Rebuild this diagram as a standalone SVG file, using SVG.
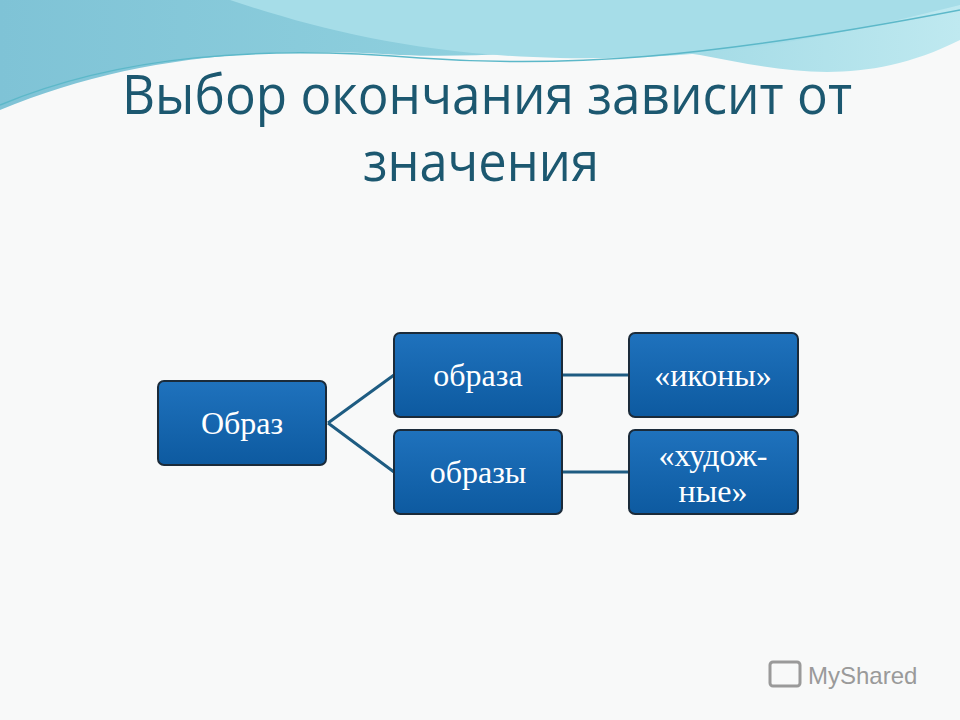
<svg xmlns="http://www.w3.org/2000/svg" width="960" height="720" viewBox="0 0 960 720">
<defs>
<linearGradient id="sky" x1="0" y1="0" x2="1" y2="0"><stop offset="0" stop-color="#7fc3d6"/><stop offset="0.5" stop-color="#8fd0de"/><stop offset="1" stop-color="#bfe9f0"/></linearGradient>
<linearGradient id="box" x1="0" y1="0" x2="0" y2="1"><stop offset="0" stop-color="#1f72bd"/><stop offset="1" stop-color="#0d5aa0"/></linearGradient>
<style>
.b{fill:url(#box);stroke:#1b2b3a;stroke-width:2}
.t{font-family:"Liberation Serif",serif;font-size:32px;fill:#fff;text-anchor:middle}
.c{stroke:#1e5c82;stroke-width:3;fill:none}
.h{font-family:"Open Sans",sans-serif;font-size:54px;fill:#1c5870}
</style>
</defs>
<rect width="960" height="720" fill="#f8f9f9"/>
<path d="M0 0H960V40C860 90 780 70 700 55C600 40 520 60 400 55C250 45 120 60 0 110Z" fill="url(#sky)"/>
<path d="M230 0C320 30 420 55 560 58C700 60 800 45 960 5V0Z" fill="#a6dde8"/>
<path d="M0 105C120 55 260 45 420 58C560 68 700 60 960 10" stroke="#5cb8c9" stroke-width="1.5" fill="none"/>
<text class="h" x="122" y="114" textLength="730" lengthAdjust="spacingAndGlyphs">Выбор окончания зависит от</text>
<text class="h" x="363" y="181" textLength="236" lengthAdjust="spacingAndGlyphs">значения</text>
<g id="connectors">
<path class="c" d="M328 423L394 375M328 423L394 472M562 375H629M562 472H629"/>
</g>
<g id="n1"><rect class="b" x="158" y="381" width="168" height="84" rx="6"/><text class="t" x="242" y="434">Образ</text></g>
<g id="n2"><rect class="b" x="394" y="333" width="168" height="84" rx="6"/><text class="t" x="478" y="386">образа</text></g>
<g id="n3"><rect class="b" x="394" y="430" width="168" height="84" rx="6"/><text class="t" x="478" y="483">образы</text></g>
<g id="n4"><rect class="b" x="629" y="333" width="169" height="84" rx="6"/><text class="t" x="713" y="386">«иконы»</text></g>
<g id="n5"><rect class="b" x="629" y="430" width="169" height="84" rx="6"/><text class="t" x="713" y="466">«худож-</text><text class="t" x="713" y="502">ные»</text></g>
<text x="808" y="684" font-family="Liberation Sans,sans-serif" font-size="24" fill="#9a9a9a">MyShared</text>
<rect x="770" y="662" width="30" height="24" rx="3" fill="none" stroke="#9a9a9a" stroke-width="3"/>
</svg>
